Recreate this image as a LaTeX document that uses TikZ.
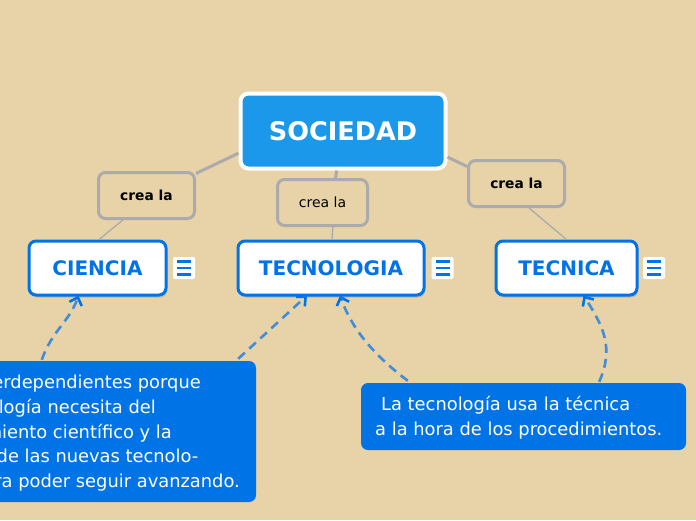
\documentclass[tikz,border=0pt]{standalone}
\usepackage{fontspec}
\setmainfont{DejaVu Sans}
\usetikzlibrary{arrows.meta,calc,shadows}
\definecolor{bg}{HTML}{E8D3A8}
\definecolor{mainblue}{HTML}{1B98E9}
\definecolor{nodeblue}{HTML}{0073E6}
\definecolor{linkgray}{HTML}{ABABAB}
\definecolor{dashblue}{HTML}{428CD8}
\tikzset{
  x=1pt,y=-1pt,
  centralbox/.style={draw=white,fill=mainblue,line width=4pt,rounded corners=8pt,minimum width=205pt,minimum height=75pt,text=white,font=\fontsize{25.6}{30}\selectfont\bfseries,inner sep=0pt},
  topicbox/.style={draw=nodeblue,fill=white,line width=3pt,rounded corners=7pt,minimum height=54pt,text=nodeblue,font=\fontsize{20}{24}\selectfont\bfseries,inner sep=0pt,drop shadow={shadow xshift=1pt,shadow yshift=-2.5pt,opacity=.35}},
  linkbox/.style={draw=linkgray,line width=3pt,rounded corners=7pt,minimum height=46pt,text=black,inner sep=0pt},
  boldlink/.style={font=\fontsize{13.8}{16}\selectfont\bfseries},
  pluslink/.style={font=\fontsize{14}{16}\selectfont},
  notebox/.style={fill=nodeblue,rounded corners=7pt,inner sep=0pt},
  notetext/.style={text=white,font=\fontsize{17.85}{21}\selectfont,inner sep=0pt},
  iconbox/.style={fill=white,rounded corners=2pt,minimum width=22pt,minimum height=22pt,inner sep=0pt,
    path picture={\foreach \d in {-6.5,0,6.5}{\draw[nodeblue,line width=2.6pt] ($(path picture bounding box.center)+(-7,\d)$) -- ++(14,0);}}},
  thicklink/.style={draw=linkgray,line width=3pt},
  thinlink/.style={draw=linkgray,line width=1.3pt},
  dashlink/.style={draw=dashblue,line width=2.6pt,dash pattern=on 9pt off 6pt,-{Straight Barb[color=nodeblue,length=7pt,width=13pt,line width=2.6pt]}},
}
\begin{document}
\begin{tikzpicture}
\useasboundingbox (0,0) rectangle (696,520);
\fill[bg] (0,0) rectangle (696,520);
% boxes
\node[centralbox] (soc) at (343,131) {\raisebox{-1pt}{SOCIEDAD}};
\node[linkbox,boldlink,minimum width=96pt] (c1) at (146.5,195.5) {crea la};
\node[linkbox,pluslink,minimum width=90pt] (c2) at (322.5,202.5) {crea la};
\node[linkbox,boldlink,minimum width=96pt] (c3) at (516.5,183.5) {crea la};
\node[topicbox,minimum width=137pt] (cien) at (97.5,268) {CIENCIA};
\node[topicbox,minimum width=186pt] (tec) at (331,268) {TECNOLOGIA};
\node[topicbox,minimum width=141pt] (tcn) at (566.5,268) {TECNICA};
\node[iconbox] (i1) at (184,268) {};
\node[iconbox] (i2) at (442.5,268) {};
\node[iconbox] (i3) at (654,268) {};
\node[notebox,minimum width=296pt,minimum height=141pt] (n1) at (108,431.5) {};
\node[notebox,minimum width=325pt,minimum height=67pt] (n2) at (523.5,416.5) {};
% note text
\node[notetext,anchor=base east] (t1) at (201,388) {erdependientes porque};
\node[notetext,anchor=base east] (t2) at (156,413) {logía necesita del};
\node[notetext,anchor=base east] (t3) at (172,438) {miento científico y la};
\node[notetext,anchor=base east] (t4) at (198.5,462) {de las nuevas tecnolo-};
\node[notetext,anchor=base east] (t5) at (240,487) {ra poder seguir avanzando.};
\node[notetext,anchor=base west] (t6) at (381,410) {La tecnología usa la técnica};
\node[notetext,anchor=base west] (t7) at (375,435) {a la hora de los procedimientos.};
% links
\draw[thicklink] (soc.192) -- (c1.24);
\draw[thicklink] (soc.261) -- (c2.62);
\draw[thicklink] (soc.-14) -- (c3.161);
\draw[thinlink] (c1.226) -- (cien.87);
\draw[thinlink] (c2.-67) -- (tec.88);
\draw[thinlink] (c3.-63) -- (tcn.90);
% dashed arrows
\draw[dashlink] ($(n1.north west)+(82,-1)$) .. controls ($(n1.north west)+(92,-30)$) and ($(cien.south)+(-28,25)$) .. ($(cien.south)+(-19,-1)$);
\draw[dashlink] ($(n1.north east)+(-18,-2)$) -- ($(tec.south)+(-24,-1)$);
\draw[dashlink] ($(n2.north west)+(47,-2)$) .. controls ($(n2.north west)+(10,-30)$) and ($(tec.south)+(20,30)$) .. ($(tec.south)+(9,-1)$);
\draw[dashlink] ($(n2.north east)+(-87,-1)$) .. controls ($(n2.north east)+(-72,-35)$) and ($(tcn.south)+(37,30)$) .. ($(tcn.south)+(17,-1)$);
\end{tikzpicture}
\end{document}
